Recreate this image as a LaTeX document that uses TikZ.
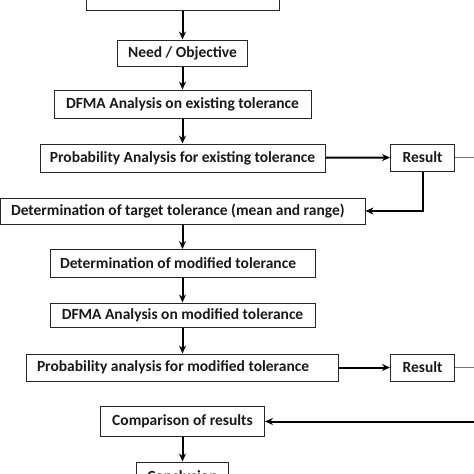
\documentclass[tikz,border=0pt]{standalone}
\usepackage{fontspec}
\setmainfont{Carlito}
\usetikzlibrary{arrows.meta}
\tikzset{bnode/.style = {shape = rectangle,
                         draw = black!85,
                         line width = 1pt,
                         inner sep = 0pt,
                         text = black!90,
                         font = \bfseries\fontsize{15.5}{17}\selectfont}}

\begin{document}
\begin{tikzpicture}[x=1pt, y=-1pt,
                    bnode/.style = {shape = rectangle,
                                    draw = black!85,
                                    line width = 1pt,
                                    inner sep = 0pt,
                                    text = black!90,
                                    font = \bfseries\fontsize{15.5}{17}\selectfont},
                    arr/.style = {-{Stealth[length=8pt, width=7pt]}, line width = 2pt},
                    thinline/.style = {draw = black!55, line width = 0.8pt}]
		\clip (0,0) rectangle (474,474);
		\node[bnode, minimum width = 193pt, minimum height = 34pt] (1) at (182.5,-7) {Identifying the Problem};
		\node[bnode, minimum width = 130pt, minimum height = 26pt] (2) at (182.5,53) {Need / Objective};
		\node[bnode, minimum width = 257pt, minimum height = 28pt] (3) at (182.5,104) {DFMA Analysis on existing tolerance};
		\node[bnode, minimum width = 285pt, minimum height = 28pt] (4) at (182.5,158) {Probability Analysis for existing tolerance};
		\node[bnode, minimum width = 64pt, minimum height = 27pt] (r1) at (422.5,157.5) {Result};
		\node[bnode, minimum height = 26pt, inner xsep = 11pt, text width = 343pt, align = flush left] (5) at (182.5,211) {Determination of target tolerance (mean and range)};
		\node[bnode, minimum height = 28pt, inner xsep = 10pt, text width = 245pt, align = flush left] (6) at (182.5,263.5) {Determination of modified tolerance};
		\node[bnode, minimum width = 265pt, minimum height = 24pt] (7) at (182.5,315) {DFMA Analysis on modified tolerance};
		\node[bnode, minimum height = 27pt, inner xsep = 10.5pt, text width = 291pt, align = flush left] (8) at (182.5,367.5) {Probability analysis for modified tolerance};
		\node[bnode, minimum width = 64pt, minimum height = 27pt] (r2) at (422.5,367.5) {Result};
		\node[bnode, minimum width = 164pt, minimum height = 30pt] (9) at (182.5,421.5) {Comparison of results};
		\node[bnode, minimum width = 92pt, minimum height = 28pt] (10) at (182.5,476) {Conclusion};
		\coordinate (e1) at (480,157.5);
		\coordinate (e2) at (480,367.5);
		\coordinate (e3) at (480,421.5);
		\path[arr] (1) edge (2);
		\path[arr] (2) edge (3);
		\path[arr] (3) edge (4);
		\path[arr] (4) edge (r1);
		\path[arr] (5) edge (6);
		\path[arr] (6) edge (7);
		\path[arr] (7) edge (8);
		\path[arr] (8) edge (r2);
		\path[arr] (9) edge (10);
		\draw[arr] (r1.south) |- (5.east);
		\draw[arr] (e3) -- (9.east);
		\draw[thinline] (r1.east) -- (e1);
		\draw[thinline] (r2.east) -- (e2);
	\end{tikzpicture}
\end{document}
